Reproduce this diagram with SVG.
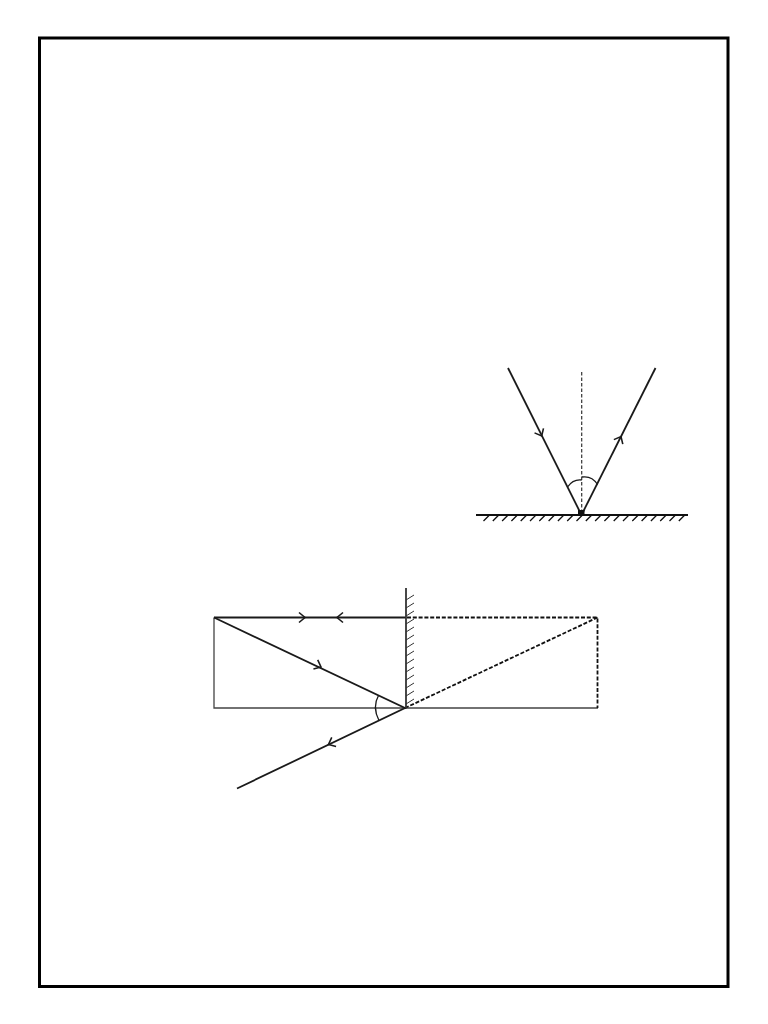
<svg xmlns="http://www.w3.org/2000/svg" width="768" height="1024" viewBox="0 0 768 1024">
<style>
.ray{fill:none;stroke:#1a1a1a;stroke-width:1.8}
.thin{fill:none;stroke:#444;stroke-width:1.3}
.dash{fill:none;stroke:#111;stroke-width:1.8;stroke-dasharray:4 1.800}
.arc{fill:none;stroke:#1a1a1a;stroke-width:1.3}
.tick{fill:none;stroke:#111;stroke-width:1.3}
.mtick{fill:none;stroke:#333;stroke-width:1}
.head{fill:none;stroke:#1a1a1a;stroke-width:1.600}
</style>
<defs>
<path id="h" class="head" d="M-6,-5 L0,0 L-6,5"/>
</defs>
<rect width="768" height="1024" fill="#fff"/>
<rect id="frame" x="39.5" y="38" width="688.5" height="948.5" fill="none" stroke="#000" stroke-width="3"/>
<g id="reflection-figure">
<path class="ray" d="M508,368 L580,512"/>
<path class="ray" d="M655.500,368 L583,512"/>
<path d="M581.700,372 V512" fill="none" stroke="#333" stroke-width="1.200" stroke-dasharray="3.500 2"/>
<path class="arc" d="M567.500,487 Q573,479 581.700,480"/>
<path class="arc" d="M582,477 Q592,475.500 597.500,484.500"/>
<use href="#h" transform="translate(541.700,436) rotate(63.400)"/>
<use href="#h" transform="translate(621,436.500) rotate(-63.400)"/>
<rect x="578" y="510" width="6.500" height="5.500" fill="#111"/>
<path d="M476,515 H688" fill="none" stroke="#111" stroke-width="2"/>
<path class="tick" d="M489.500,515l-6,6M498.800,515l-6,6M508.100,515l-6,6M517.400,515l-6,6M526.700,515l-6,6M536,515l-6,6M545.300,515l-6,6M554.600,515l-6,6M563.900,515l-6,6M573.200,515l-6,6M582.500,515l-6,6M591.800,515l-6,6M601.100,515l-6,6M610.400,515l-6,6M619.700,515l-6,6M629,515l-6,6M638.300,515l-6,6M647.600,515l-6,6M656.900,515l-6,6M666.200,515l-6,6M675.500,515l-6,6M684.800,515l-6,6"/>
</g>
<g id="mirror-figure">
<path class="thin" d="M214,617.500 V708 H598"/>
<path class="ray" d="M214,617.500 H406"/>
<path class="ray" d="M214,617.500 L405,708 L237,788.500"/>
<path class="dash" d="M407,617.500 H597.500 V708"/>
<path class="dash" d="M405,708 L597.500,617.500"/>
<path d="M406,588 V708" fill="none" stroke="#333" stroke-width="1.800"/>
<path class="mtick" d="M406,600l8,-5M406,608l8,-5M406,616l8,-5M406,624l8,-5M406,632l8,-5M406,640l8,-5M406,648l8,-5M406,656l8,-5M406,664l8,-5M406,672l8,-5M406,680l8,-5M406,688l8,-5M406,696l8,-5M406,704l8,-5"/>
<path class="arc" d="M378.500,695.500 Q372,707 379,720.500"/>
<use href="#h" transform="translate(305,617.500)"/>
<use href="#h" transform="translate(337,617.500) rotate(180)"/>
<use href="#h" transform="translate(321,667) rotate(25.300)"/>
<use href="#h" transform="translate(328.500,744.500) rotate(154.400)"/>
</g>
</svg>
